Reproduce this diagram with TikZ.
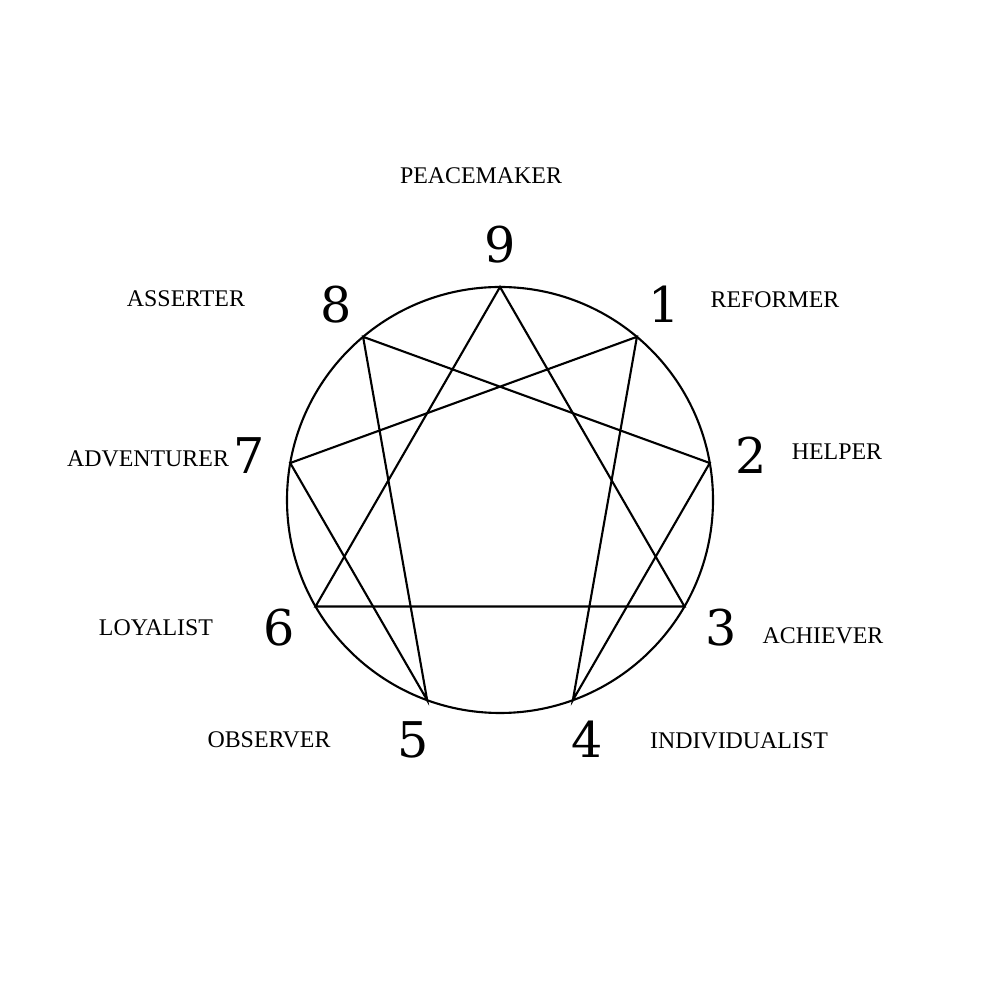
\documentclass[tikz,border=0pt]{standalone}
\usepackage{fontspec}
\setmainfont{Liberation Serif}
\newfontfamily\digitfont{DejaVu Serif}
\usepackage{tikz}
\usetikzlibrary{calc}

\tikzset{
	num/.style={inner sep=0pt, font=\digitfont\fontsize{14}{14}\selectfont},
	type/.style={inner sep=0pt, font=\fontsize{6.8}{7}\selectfont}
}

\begin{document}
\begin{tikzpicture}[line width=0.6pt]

		\useasboundingbox (-5, -5) rectangle (5, 5);

		% Outer circle
		\node (C) at (0, 0) {};
		\draw (C.center) circle (2.13);

		% Points on the circle
		\coordinate (P9) at (90:2.13);
		\coordinate (P1) at (50:2.13);
		\coordinate (P2) at (10:2.13);
		\coordinate (P3) at (-30:2.13);
		\coordinate (P4) at (-70:2.13);
		\coordinate (P5) at (-110:2.13);
		\coordinate (P6) at (-150:2.13);
		\coordinate (P7) at (170:2.13);
		\coordinate (P8) at (130:2.13);

		% Numbers
		\node[num] (N9) at (90:2.55) {9};
		\node[num] (N1) at (50:2.55) {1};
		\node[num] (N2) at (10:2.55) {2};
		\node[num] (N3) at (-30:2.55) {3};
		\node[num] (N4) at (-70:2.55) {4};
		\node[num] (N5) at (-110:2.55) {5};
		\node[num] (N6) at (-150:2.55) {6};
		\node[num] (N7) at (170:2.55) {7};
		\node[num] (N8) at (130:2.55) {8};

		% Type names
		\node[type] (T9) at (-0.19, 3.24) {PEACEMAKER};
		\node[type] (T1) at (2.75, 2.00) {REFORMER};
		\node[type] (T2) at (3.37, 0.48) {HELPER};
		\node[type] (T3) at (3.23, -1.36) {ACHIEVER};
		\node[type] (T4) at (2.39, -2.41) {INDIVIDUALIST};
		\node[type] (T5) at (-2.31, -2.40) {OBSERVER};
		\node[type] (T6) at (-3.44, -1.28) {LOYALIST};
		\node[type] (T7) at (-3.52, 0.41) {ADVENTURER};
		\node[type] (T8) at (-3.14, 2.01) {ASSERTER};

		% --- Inner lines ---

		% Triangle 9-3-6
		\draw (P9) -- (P3) -- (P6) -- cycle;

		% Hexad 1-4-2-8-5-7
		\draw (P1) -- (P4) -- (P2) -- (P8) -- (P5) -- (P7) -- cycle;

	\end{tikzpicture}
\end{document}
